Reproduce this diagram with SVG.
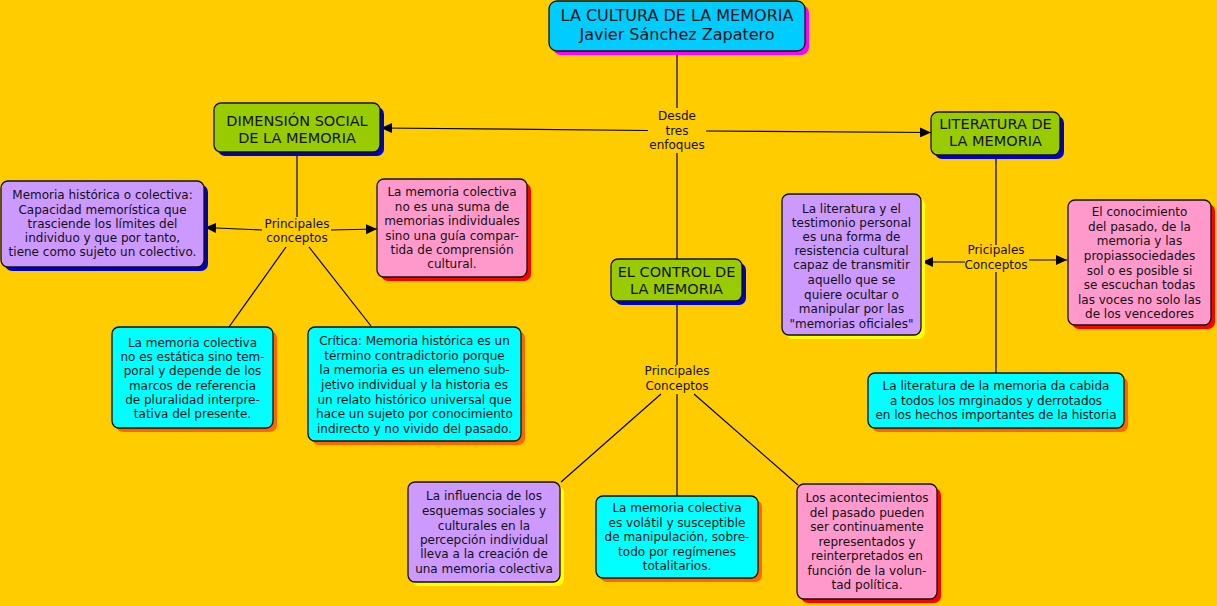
<svg xmlns="http://www.w3.org/2000/svg" width="1217" height="606" viewBox="0 0 1217 606">
<defs>
<marker id="ah" markerUnits="userSpaceOnUse" markerWidth="12" markerHeight="10" refX="11" refY="5" orient="auto">
<path d="M0,0 L11,5 L0,10 Z" fill="#000"/>
</marker>
<style>
text{font-family:"DejaVu Sans",Verdana,sans-serif;fill:#111;text-anchor:middle}
.t{font-size:16px}
.h{font-size:14.5px}
.b{font-size:12px}
.l{font-size:12px}
.box{stroke:#111;stroke-width:1.3}
.sh{stroke:none}
.cyanT{fill:#00CCFF}
.green{fill:#99CC00}
.purple{fill:#CC99FF}
.pink{fill:#FF99CC}
.cyan{fill:#00FFFF}
.sMag{fill:#FF00FF}
.sBlue{fill:#0000CC}
.sRed{fill:#FF0000}
.sOr{fill:#FF6600}
.sYel{fill:#FFFF00}
#connectors line{stroke:#000;stroke-width:1.2;fill:none}
#connectors .arr{marker-end:url(#ah)}
</style>
</defs>
<rect width="1217" height="606" fill="#FFCC00"/>

<g id="connectors">
<line x1="677" y1="51" x2="677" y2="108"/>
<line x1="677" y1="153" x2="677" y2="259"/>
<line class="arr" x1="648" y1="130.5" x2="381" y2="128"/>
<line class="arr" x1="706" y1="131" x2="931" y2="132.5"/>
<line x1="297" y1="152" x2="297" y2="217"/>
<line class="arr" x1="262" y1="230" x2="205" y2="227.5"/>
<line class="arr" x1="331" y1="230" x2="377" y2="229"/>
<line x1="286" y1="247" x2="229" y2="327"/>
<line x1="309" y1="247" x2="371" y2="326"/>
<line x1="996" y1="156" x2="996" y2="245"/>
<line x1="996" y1="272" x2="996" y2="373"/>
<line class="arr" x1="965" y1="262" x2="922" y2="262"/>
<line class="arr" x1="1029" y1="260" x2="1067" y2="260"/>
<line x1="677" y1="301" x2="677" y2="365"/>
<line x1="677" y1="394" x2="677" y2="496"/>
<line x1="661" y1="394" x2="561" y2="482"/>
<line x1="694" y1="394" x2="798" y2="485"/>
</g>

<g id="labels">
<text class="l" x="677"><tspan x="677" y="120.3">Desde</tspan><tspan x="677" y="135.3">tres</tspan><tspan x="677" y="149.3">enfoques</tspan></text>
<text class="l" x="297"><tspan x="297" y="227.6">Principales</tspan><tspan x="297" y="241.6">conceptos</tspan></text>
<text class="l" x="996"><tspan x="996" y="254.3">Pricipales</tspan><tspan x="996" y="269.3">Conceptos</tspan></text>
<text class="l" x="677"><tspan x="677" y="375">Principales</tspan><tspan x="677" y="389.6">Conceptos</tspan></text>
</g>

<g id="n-title">
<rect class="sh sMag" x="553" y="5" width="256" height="50" rx="8"/>
<rect class="box cyanT" x="549" y="1" width="256" height="50" rx="8"/>
<text class="t"><tspan x="677" y="21">LA CULTURA DE LA MEMORIA</tspan><tspan x="677" y="40">Javier Sánchez Zapatero</tspan></text>
</g>

<g id="n-dimension">
<rect class="sh sBlue" x="218" y="107" width="166" height="49" rx="7"/>
<rect class="box green" x="214" y="103" width="166" height="49" rx="7"/>
<text class="h"><tspan x="297" y="126.3">DIMENSIÓN SOCIAL</tspan><tspan x="297" y="143">DE LA MEMORIA</tspan></text>
</g>

<g id="n-literatura">
<rect class="sh sBlue" x="935" y="116" width="129" height="43" rx="7"/>
<rect class="box green" x="931" y="112" width="129" height="43" rx="7"/>
<text class="h"><tspan x="995.5" y="129.2">LITERATURA DE</tspan><tspan x="995.5" y="145.9">LA MEMORIA</tspan></text>
</g>

<g id="n-control">
<rect class="sh sBlue" x="615" y="263" width="131" height="42" rx="7"/>
<rect class="box green" x="611" y="259" width="131" height="42" rx="7"/>
<text class="h"><tspan x="676.5" y="276.9">EL CONTROL DE</tspan><tspan x="676.5" y="293.5">LA MEMORIA</tspan></text>
</g>

<g id="n-memoria-historica">
<rect class="sh sBlue" x="5" y="185" width="203" height="86" rx="7"/>
<rect class="box purple" x="1" y="181" width="203" height="86" rx="7"/>
<text class="b"><tspan x="102.5" y="199.3">Memoria histórica o colectiva:</tspan><tspan x="102.5" y="213.5">Capacidad memorística que</tspan><tspan x="102.5" y="227.7">trasciende los límites del</tspan><tspan x="102.5" y="241.9">individuo y que por tanto,</tspan><tspan x="102.5" y="256.1">tiene como sujeto un colectivo.</tspan></text>
</g>

<g id="n-suma">
<rect class="sh sRed" x="381" y="183" width="150" height="98" rx="7"/>
<rect class="box pink" x="377" y="179" width="150" height="98" rx="7"/>
<text class="b"><tspan x="452" y="196">La memoria colectiva</tspan><tspan x="452" y="211">no es una suma de</tspan><tspan x="452" y="225.3">memorias individuales</tspan><tspan x="452" y="240">sino una guía compar-</tspan><tspan x="452" y="254.3">tida de comprensión</tspan><tspan x="452" y="268.3">cultural.</tspan></text>
</g>

<g id="n-estatica">
<rect class="sh sOr" x="116" y="331" width="161" height="101" rx="7"/>
<rect class="box cyan" x="112" y="327" width="161" height="101" rx="7"/>
<text class="b"><tspan x="192.5" y="346.6">La memoria colectiva</tspan><tspan x="192.5" y="361">no es estática sino tem-</tspan><tspan x="192.5" y="375.3">poral y depende de los</tspan><tspan x="192.5" y="389.6">marcos de referencia</tspan><tspan x="192.5" y="404.3">de pluralidad interpre-</tspan><tspan x="192.5" y="418.3">tativa del presente.</tspan></text>
</g>

<g id="n-critica">
<rect class="sh sOr" x="312" y="331" width="213" height="114" rx="7"/>
<rect class="box cyan" x="308" y="327" width="213" height="114" rx="7"/>
<text class="b"><tspan x="414.5" y="345">Crítica: Memoria histórica es un</tspan><tspan x="414.5" y="360">término contradictorio porque</tspan><tspan x="414.5" y="374.3">la memoria es un elemeno sub-</tspan><tspan x="414.5" y="389.3">jetivo individual y la historia es</tspan><tspan x="414.5" y="403.6">un relato histórico universal que</tspan><tspan x="414.5" y="417.6">hace un sujeto por conocimiento</tspan><tspan x="414.5" y="432.6">indirecto y no vivido del pasado.</tspan></text>
</g>

<g id="n-testimonio">
<rect class="sh sYel" x="786" y="198" width="139" height="141" rx="7"/>
<rect class="box purple" x="782" y="194" width="139" height="141" rx="7"/>
<text class="b"><tspan x="851.5" y="212.6">La literatura y el</tspan><tspan x="851.5" y="226.5">testimonio personal</tspan><tspan x="851.5" y="241">es una forma de</tspan><tspan x="851.5" y="255">resistencia cultural</tspan><tspan x="851.5" y="269.3">capaz de transmitir</tspan><tspan x="851.5" y="284">aquello que se</tspan><tspan x="851.5" y="298.6">quiere ocultar o</tspan><tspan x="851.5" y="313.3">manipular por las</tspan><tspan x="851.5" y="327.6">"memorias oficiales"</tspan></text>
</g>

<g id="n-conocimiento">
<rect class="sh sRed" x="1072" y="204" width="143" height="125" rx="7"/>
<rect class="box pink" x="1068" y="200" width="143" height="125" rx="7"/>
<text class="b"><tspan x="1139.5" y="216">El conocimiento</tspan><tspan x="1139.5" y="231">del pasado, de la</tspan><tspan x="1139.5" y="245.3">memoria y las</tspan><tspan x="1139.5" y="260">propiassociedades</tspan><tspan x="1139.5" y="275">sol o es posible si</tspan><tspan x="1139.5" y="289.3">se escuchan todas</tspan><tspan x="1139.5" y="303.6">las voces no solo las</tspan><tspan x="1139.5" y="317.6">de los vencedores</tspan></text>
</g>

<g id="n-cabida">
<rect class="sh sOr" x="872" y="377" width="256" height="55" rx="7"/>
<rect class="box cyan" x="868" y="373" width="256" height="55" rx="7"/>
<text class="b"><tspan x="996" y="390.3">La literatura de la memoria da cabida</tspan><tspan x="996" y="404.6">a todos los mrginados y derrotados</tspan><tspan x="996" y="419.3">en los hechos importantes de la historia</tspan></text>
</g>

<g id="n-influencia">
<rect class="sh sYel" x="412" y="486" width="152" height="100" rx="7"/>
<rect class="box purple" x="408" y="482" width="152" height="100" rx="7"/>
<text class="b"><tspan x="484" y="500.3">La influencia de los</tspan><tspan x="484" y="515">esquemas sociales y</tspan><tspan x="484" y="529.6">culturales en la</tspan><tspan x="484" y="543.6">percepción individual</tspan><tspan x="484" y="558.3">lleva a la creación de</tspan><tspan x="484" y="573">una memoria colectiva</tspan></text>
</g>

<g id="n-volatil">
<rect class="sh sOr" x="600" y="500" width="162" height="82" rx="7"/>
<rect class="box cyan" x="596" y="496" width="162" height="82" rx="7"/>
<text class="b"><tspan x="677" y="512">La memoria colectiva</tspan><tspan x="677" y="527">es volátil y susceptible</tspan><tspan x="677" y="541">de manipulación, sobre-</tspan><tspan x="677" y="556">todo por regímenes</tspan><tspan x="677" y="570.3">totalitarios.</tspan></text>
</g>

<g id="n-acontecimientos">
<rect class="sh sRed" x="801" y="488" width="140" height="115" rx="7"/>
<rect class="box pink" x="797" y="484" width="140" height="115" rx="7"/>
<text class="b"><tspan x="867" y="502">Los acontecimientos</tspan><tspan x="867" y="516.6">del pasado pueden</tspan><tspan x="867" y="531">ser continuamente</tspan><tspan x="867" y="546">representados y</tspan><tspan x="867" y="560.3">reinterpretados en</tspan><tspan x="867" y="574.6">función de la volun-</tspan><tspan x="867" y="589.3">tad política.</tspan></text>
</g>
</svg>
